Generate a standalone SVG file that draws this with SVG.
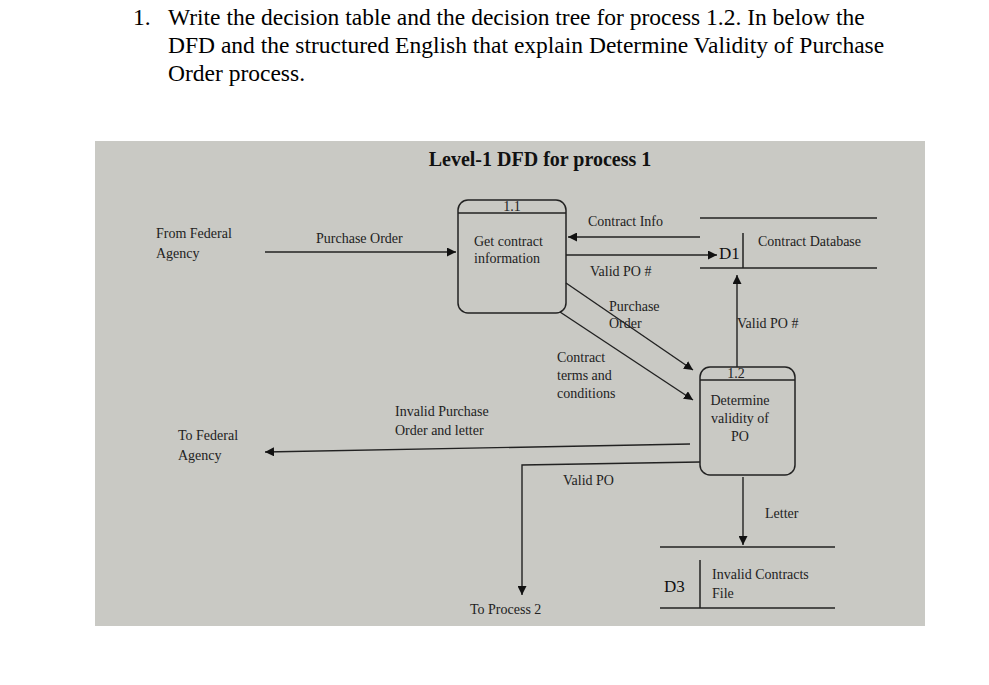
<svg xmlns="http://www.w3.org/2000/svg" width="989" height="685" viewBox="0 0 989 685">
<defs>
<marker id="ah" viewBox="0 0 10 10" refX="10" refY="5" markerWidth="9" markerHeight="9" orient="auto" markerUnits="userSpaceOnUse"><path d="M0,0L10,5L0,10z" fill="#111"/></marker>
<style>
.q{font-family:"Liberation Serif","Times New Roman",serif;font-size:23.5px;fill:#000}
.t{font-family:"Liberation Serif",serif;font-size:14px;fill:#222}
.n{fill:none;stroke:#222;stroke-width:1.5}
.c{fill:none;stroke:#222;stroke-width:1.4;marker-end:url(#ah)}
</style>
</defs>
<rect width="989" height="685" fill="#fff"/>
<text class="q" x="133" y="25">1.</text>
<text class="q" x="168" y="25">Write the decision table and the decision tree for process 1.2. In below the</text>
<text class="q" x="168" y="53">DFD and the structured English that explain Determine Validity of Purchase</text>
<text class="q" x="168" y="81">Order process.</text>
<rect x="95" y="141" width="830" height="485" fill="#c9c9c4"/>
<text x="540" y="166" text-anchor="middle" style="font-family:'Liberation Serif',serif;font-size:20px;font-weight:bold;fill:#111">Level-1 DFD for process 1</text>
<g id="p11"><rect class="n" x="458" y="200" width="108" height="113" rx="10"/><line class="n" x1="458" y1="213" x2="566" y2="213"/><text class="t" x="512" y="211" text-anchor="middle">1.1</text><text class="t" x="474" y="246">Get contract</text><text class="t" x="474" y="263">information</text></g>
<g id="p12"><rect class="n" x="700" y="367" width="95" height="108" rx="10"/><line class="n" x1="700" y1="380" x2="795" y2="380"/><text class="t" x="736" y="378" text-anchor="middle">1.2</text><text class="t" x="740" y="405" text-anchor="middle">Determine</text><text class="t" x="740" y="423" text-anchor="middle">validity of</text><text class="t" x="740" y="441" text-anchor="middle">PO</text></g>
<g id="d1"><line class="n" x1="700" y1="218" x2="877" y2="218"/><line class="n" x1="700" y1="268" x2="877" y2="268"/><line class="n" x1="743" y1="233" x2="743" y2="268"/><text x="719" y="259" style="font-family:'Liberation Serif',serif;font-size:17px;fill:#111">D1</text><text class="t" x="758" y="246">Contract Database</text></g>
<g id="d3"><line class="n" x1="660" y1="547" x2="835" y2="547"/><line class="n" x1="660" y1="608" x2="835" y2="608"/><line class="n" x1="700" y1="560" x2="700" y2="608"/><text x="664" y="592" style="font-family:'Liberation Serif',serif;font-size:17px;fill:#111">D3</text><text class="t" x="712" y="579">Invalid Contracts</text><text class="t" x="712" y="598">File</text></g>
<g id="ext"><text class="t" x="156" y="238">From Federal</text><text class="t" x="156" y="258">Agency</text><text class="t" x="178" y="440">To Federal</text><text class="t" x="178" y="460">Agency</text><text class="t" x="470" y="614">To Process 2</text></g>
<g id="connectors">
<path class="c" d="M265,252H456"/><text class="t" x="316" y="243">Purchase Order</text>
<path class="c" d="M700,237H568"/><text class="t" x="588" y="226">Contract Info</text>
<path class="c" d="M566,255H717"/><text class="t" x="590" y="276">Valid PO #</text>
<path class="c" d="M566,283L693,370"/><text class="t" x="609" y="311">Purchase</text><text class="t" x="609" y="328">Order</text>
<path class="c" d="M560,312L693,400"/><text class="t" x="557" y="362">Contract</text><text class="t" x="557" y="380">terms and</text><text class="t" x="557" y="398">conditions</text>
<path class="c" d="M737,367V275"/><text class="t" x="737" y="328">Valid PO #</text>
<path class="c" d="M690,444L265,452"/><text class="t" x="395" y="416">Invalid Purchase</text><text class="t" x="395" y="435">Order and letter</text>
<path class="c" d="M700,462L522,465V595"/><text class="t" x="563" y="485">Valid PO</text>
<path class="c" d="M743,477V545"/><text class="t" x="765" y="518">Letter</text>
</g>
</svg>
